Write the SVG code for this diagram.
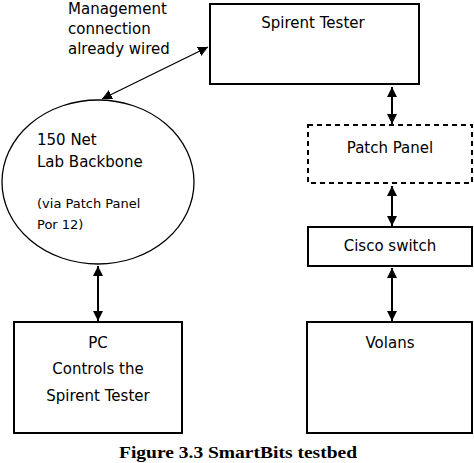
<svg xmlns="http://www.w3.org/2000/svg" width="474" height="463" viewBox="0 0 474 463">
<style>
.box{fill:#fff;stroke:#000;stroke-width:2}
.dash{fill:#fff;stroke:#000;stroke-width:2;stroke-dasharray:5 4}
.t{font-family:"DejaVu Sans","Liberation Sans",sans-serif;font-size:15px;fill:#000}
.c{text-anchor:middle}
.con{stroke:#000;stroke-width:2;fill:none;marker-start:url(#ah);marker-end:url(#ah)}
.thin{stroke:#000;stroke-width:1.3;fill:none;marker-start:url(#ah);marker-end:url(#ah)}
.cap{font-family:"Liberation Serif",serif;font-weight:bold;font-size:17px;fill:#000;text-anchor:middle}
</style>
<defs>
<marker id="ah" viewBox="0 0 10 10" refX="10" refY="5" markerWidth="10" markerHeight="10" markerUnits="userSpaceOnUse" orient="auto-start-reverse">
<path d="M0,0 L10,5 L0,10 z" fill="#000"/>
</marker>
</defs>
<rect width="474" height="463" fill="#fff"/>
<g id="connectors">
<line class="thin" x1="102" y1="99" x2="208" y2="47"/>
<line class="con" x1="392" y1="87" x2="392" y2="124"/>
<line class="con" x1="392" y1="186" x2="392" y2="226"/>
<line class="con" x1="392" y1="268" x2="392" y2="321"/>
<line class="con" x1="98" y1="266" x2="98" y2="321"/>
</g>
<g id="mgmt-label">
<text class="t" x="68" y="14">Management</text>
<text class="t" x="68" y="34">connection</text>
<text class="t" x="68" y="54">already wired</text>
</g>
<g id="spirent">
<rect class="box" x="210" y="4" width="209" height="80"/>
<text class="t c" x="313" y="28">Spirent Tester</text>
</g>
<g id="backbone">
<ellipse fill="#fff" stroke="#000" stroke-width="1.3" cx="98" cy="182" rx="96" ry="82"/>
<text class="t" x="37" y="145">150 Net</text>
<text class="t" x="37" y="167">Lab Backbone</text>
<text class="t" x="37" y="208" style="font-size:13px">(via Patch Panel</text>
<text class="t" x="37" y="229" style="font-size:13px">Por 12)</text>
</g>
<g id="patch-panel">
<rect class="dash" x="308" y="125" width="164" height="58"/>
<text class="t c" x="390" y="153">Patch Panel</text>
</g>
<g id="cisco">
<rect class="box" x="308" y="227" width="164" height="39"/>
<text class="t c" x="390" y="251">Cisco switch</text>
</g>
<g id="pc">
<rect class="box" x="14" y="322" width="168" height="111"/>
<text class="t c" x="98" y="348">PC</text>
<text class="t c" x="98" y="374">Controls the</text>
<text class="t c" x="98" y="401">Spirent Tester</text>
</g>
<g id="volans">
<rect class="box" x="307" y="322" width="165" height="111"/>
<text class="t c" x="390" y="348">Volans</text>
</g>
<text class="cap" x="238" y="458" textLength="238" lengthAdjust="spacingAndGlyphs">Figure 3.3 SmartBits testbed</text>
</svg>
